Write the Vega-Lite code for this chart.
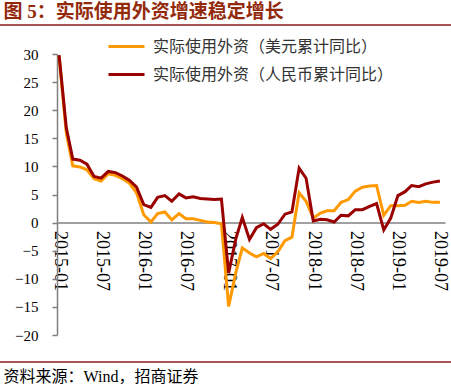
{
  "$schema": "https://vega.github.io/schema/vega-lite/v6.json",
  "autosize": "none",
  "width": 388,
  "height": 281,
  "padding": {"left": 57, "top": 54, "right": 6, "bottom": 49},
  "background": "white",
  "config": {"view": {"stroke": null}, "font": "Liberation Serif"},
  "data": {
    "values": [
      {"d": "2015-01-01", "实际使用外资（美元累计同比）": 29.6, "实际使用外资（人民币累计同比）": 29.8},
      {"d": "2015-02-01", "实际使用外资（美元累计同比）": 16.0, "实际使用外资（人民币累计同比）": 16.9},
      {"d": "2015-03-01", "实际使用外资（美元累计同比）": 10.1, "实际使用外资（人民币累计同比）": 11.3},
      {"d": "2015-04-01", "实际使用外资（美元累计同比）": 9.9, "实际使用外资（人民币累计同比）": 11.1},
      {"d": "2015-05-01", "实际使用外资（美元累计同比）": 9.4, "实际使用外资（人民币累计同比）": 10.4},
      {"d": "2015-06-01", "实际使用外资（美元累计同比）": 7.8, "实际使用外资（人民币累计同比）": 8.2},
      {"d": "2015-07-01", "实际使用外资（美元累计同比）": 7.4, "实际使用外资（人民币累计同比）": 7.9},
      {"d": "2015-08-01", "实际使用外资（美元累计同比）": 8.7, "实际使用外资（人民币累计同比）": 9.1},
      {"d": "2015-09-01", "实际使用外资（美元累计同比）": 8.4, "实际使用外资（人民币累计同比）": 8.9},
      {"d": "2015-10-01", "实际使用外资（美元累计同比）": 7.8, "实际使用外资（人民币累计同比）": 8.3},
      {"d": "2015-11-01", "实际使用外资（美元累计同比）": 7.0, "实际使用外资（人民币累计同比）": 7.5},
      {"d": "2015-12-01", "实际使用外资（美元累计同比）": 5.3, "实际使用外资（人民币累计同比）": 6.3},
      {"d": "2016-01-01", "实际使用外资（美元累计同比）": 1.4, "实际使用外资（人民币累计同比）": 3.2},
      {"d": "2016-02-01", "实际使用外资（美元累计同比）": 0.1, "实际使用外资（人民币累计同比）": 2.7},
      {"d": "2016-03-01", "实际使用外资（美元累计同比）": 1.6, "实际使用外资（人民币累计同比）": 4.5},
      {"d": "2016-04-01", "实际使用外资（美元累计同比）": 1.9, "实际使用外资（人民币累计同比）": 4.8},
      {"d": "2016-05-01", "实际使用外资（美元累计同比）": 0.5, "实际使用外资（人民币累计同比）": 3.8},
      {"d": "2016-06-01", "实际使用外资（美元累计同比）": 1.6, "实际使用外资（人民币累计同比）": 5.1},
      {"d": "2016-07-01", "实际使用外资（美元累计同比）": 0.7, "实际使用外资（人民币累计同比）": 4.4},
      {"d": "2016-08-01", "实际使用外资（美元累计同比）": 0.7, "实际使用外资（人民币累计同比）": 4.6},
      {"d": "2016-09-01", "实际使用外资（美元累计同比）": 0.4, "实际使用外资（人民币累计同比）": 4.3},
      {"d": "2016-10-01", "实际使用外资（美元累计同比）": 0.1, "实际使用外资（人民币累计同比）": 4.2},
      {"d": "2016-11-01", "实际使用外资（美元累计同比）": 0.0, "实际使用外资（人民币累计同比）": 4.1},
      {"d": "2016-12-01", "实际使用外资（美元累计同比）": -0.2, "实际使用外资（人民币累计同比）": 4.2},
      {"d": "2017-01-01", "实际使用外资（美元累计同比）": -14.9, "实际使用外资（人民币累计同比）": -9.0},
      {"d": "2017-02-01", "实际使用外资（美元累计同比）": -8.9, "实际使用外资（人民币累计同比）": -2.9},
      {"d": "2017-03-01", "实际使用外资（美元累计同比）": -4.5, "实际使用外资（人民币累计同比）": 0.9},
      {"d": "2017-04-01", "实际使用外资（美元累计同比）": -5.4, "实际使用外资（人民币累计同比）": -3.0},
      {"d": "2017-05-01", "实际使用外资（美元累计同比）": -6.1, "实际使用外资（人民币累计同比）": -0.9},
      {"d": "2017-06-01", "实际使用外资（美元累计同比）": -5.5, "实际使用外资（人民币累计同比）": -0.2},
      {"d": "2017-07-01", "实际使用外资（美元累计同比）": -6.4, "实际使用外资（人民币累计同比）": -1.2},
      {"d": "2017-08-01", "实际使用外资（美元累计同比）": -5.2, "实际使用外资（人民币累计同比）": -0.3},
      {"d": "2017-09-01", "实际使用外资（美元累计同比）": -3.2, "实际使用外资（人民币累计同比）": 1.5},
      {"d": "2017-10-01", "实际使用外资（美元累计同比）": -2.6, "实际使用外资（人民币累计同比）": 1.9},
      {"d": "2017-11-01", "实际使用外资（美元累计同比）": 5.3, "实际使用外资（人民币累计同比）": 9.7},
      {"d": "2017-12-01", "实际使用外资（美元累计同比）": 3.8, "实际使用外资（人民币累计同比）": 7.9},
      {"d": "2018-01-01", "实际使用外资（美元累计同比）": 0.8, "实际使用外资（人民币累计同比）": 0.3},
      {"d": "2018-02-01", "实际使用外资（美元累计同比）": 1.7, "实际使用外资（人民币累计同比）": 0.6},
      {"d": "2018-03-01", "实际使用外资（美元累计同比）": 2.1, "实际使用外资（人民币累计同比）": 0.5},
      {"d": "2018-04-01", "实际使用外资（美元累计同比）": 2.1, "实际使用外资（人民币累计同比）": 0.1},
      {"d": "2018-05-01", "实际使用外资（美元累计同比）": 3.6, "实际使用外资（人民币累计同比）": 1.3},
      {"d": "2018-06-01", "实际使用外资（美元累计同比）": 4.1, "实际使用外资（人民币累计同比）": 1.2},
      {"d": "2018-07-01", "实际使用外资（美元累计同比）": 5.6, "实际使用外资（人民币累计同比）": 2.3},
      {"d": "2018-08-01", "实际使用外资（美元累计同比）": 6.3, "实际使用外资（人民币累计同比）": 2.3},
      {"d": "2018-09-01", "实际使用外资（美元累计同比）": 6.5, "实际使用外资（人民币累计同比）": 2.9},
      {"d": "2018-10-01", "实际使用外资（美元累计同比）": 6.6, "实际使用外资（人民币累计同比）": 3.4},
      {"d": "2018-11-01", "实际使用外资（美元累计同比）": 1.3, "实际使用外资（人民币累计同比）": -1.3},
      {"d": "2018-12-01", "实际使用外资（美元累计同比）": 3.0, "实际使用外资（人民币累计同比）": 0.8},
      {"d": "2019-01-01", "实际使用外资（美元累计同比）": 3.0, "实际使用外资（人民币累计同比）": 4.8},
      {"d": "2019-02-01", "实际使用外资（美元累计同比）": 3.1, "实际使用外资（人民币累计同比）": 5.5},
      {"d": "2019-03-01", "实际使用外资（美元累计同比）": 3.8, "实际使用外资（人民币累计同比）": 6.6},
      {"d": "2019-04-01", "实际使用外资（美元累计同比）": 3.6, "实际使用外资（人民币累计同比）": 6.4},
      {"d": "2019-05-01", "实际使用外资（美元累计同比）": 3.8, "实际使用外资（人民币累计同比）": 6.9},
      {"d": "2019-06-01", "实际使用外资（美元累计同比）": 3.6, "实际使用外资（人民币累计同比）": 7.2},
      {"d": "2019-07-01", "实际使用外资（美元累计同比）": 3.6, "实际使用外资（人民币累计同比）": 7.4}
    ]
  },
  "layer": [
    {
      "transform": [
        {"fold": ["实际使用外资（美元累计同比）", "实际使用外资（人民币累计同比）"], "as": ["s", "v"]}
      ],
      "mark": {"type": "line", "strokeWidth": 3},
      "encoding": {
        "x": {
          "field": "d",
          "type": "temporal",
          "scale": {
            "type": "utc",
            "domain": [
              {"year": 2014, "month": 12, "date": 23, "utc": true},
              {"year": 2019, "month": 7, "date": 23, "utc": true}
            ]
          },
          "axis": {
            "offset": -112.4,
            "values": [
              {"year": 2015, "month": 1, "date": 1, "utc": true},
              {"year": 2015, "month": 7, "date": 1, "utc": true},
              {"year": 2016, "month": 1, "date": 1, "utc": true},
              {"year": 2016, "month": 7, "date": 1, "utc": true},
              {"year": 2017, "month": 1, "date": 1, "utc": true},
              {"year": 2017, "month": 7, "date": 1, "utc": true},
              {"year": 2018, "month": 1, "date": 1, "utc": true},
              {"year": 2018, "month": 7, "date": 1, "utc": true},
              {"year": 2019, "month": 1, "date": 1, "utc": true},
              {"year": 2019, "month": 7, "date": 1, "utc": true}
            ],
            "labelExpr": "utcFormat(datum.value, '%Y-%m')",
            "labelAngle": 90,
            "labelAlign": "left",
            "labelBaseline": "middle",
            "labelFont": "Liberation Serif",
            "labelFontSize": 18,
            "labelColor": "#000000",
            "labelPadding": 8,
            "labelFlush": false,
            "labelOverlap": false,
            "ticks": false,
            "grid": false,
            "domainColor": "#808080",
            "domainWidth": 1.5,
            "title": "资料来源：Wind，招商证券",
            "titleX": -54,
            "titleY": 153.4,
            "titleAlign": "left",
            "titleBaseline": "middle",
            "titleAngle": 0,
            "titleFont": "Liberation Serif, Noto Sans CJK SC",
            "titleFontSize": 16,
            "titleFontWeight": "normal",
            "titleColor": "#000000"
          }
        },
        "y": {
          "field": "v",
          "type": "quantitative",
          "scale": {"domain": [-20, 30], "nice": false, "zero": false},
          "axis": {
            "title": "图 5：实际使用外资增速稳定增长",
            "titleX": -54,
            "titleY": -43,
            "titleAngle": 0,
            "titleAlign": "left",
            "titleBaseline": "middle",
            "titleFont": "Liberation Serif, Noto Sans CJK SC",
            "titleFontSize": 19,
            "titleFontWeight": "bold",
            "titleColor": "#942A0C",
            "values": [-20, -15, -10, -5, 0, 5, 10, 15, 20, 25, 30],
            "labelFont": "Liberation Serif",
            "labelFontSize": 15,
            "labelColor": "#000000",
            "labelPadding": 14,
            "tickSize": 5,
            "tickColor": "#808080",
            "tickWidth": 1.5,
            "domainColor": "#808080",
            "domainWidth": 1.5,
            "grid": false
          }
        },
        "color": {
          "field": "s",
          "type": "nominal",
          "sort": ["实际使用外资（美元累计同比）", "实际使用外资（人民币累计同比）"],
          "scale": {
            "domain": ["实际使用外资（美元累计同比）", "实际使用外资（人民币累计同比）"],
            "range": ["#FF9900", "#990000"]
          },
          "legend": {
            "orient": "none",
            "legendX": 50,
            "legendY": -27,
            "title": null,
            "symbolType": "stroke",
            "symbolSize": 1296,
            "symbolStrokeWidth": 3,
            "labelFont": "Liberation Serif, Noto Sans CJK SC",
            "labelFontSize": 16,
            "labelColor": "#333333",
            "labelOffset": 7,
            "labelLimit": 400,
            "rowPadding": -14
          }
        }
      }
    },
    {
      "data": {"values": [{"k": "top"}]},
      "mark": {"type": "rule", "color": "#8B1A1A", "strokeWidth": 1.5},
      "encoding": {"x": {"value": -57}, "x2": {"value": 394}, "y": {"value": -29}, "y2": {"value": -29}}
    },
    {
      "data": {"values": [{"k": "bottom"}]},
      "mark": {"type": "rule", "color": "#8B1A1A", "strokeWidth": 1.5},
      "encoding": {"x": {"value": -57}, "x2": {"value": 394}, "y": {"value": 308}, "y2": {"value": 308}}
    }
  ]
}
